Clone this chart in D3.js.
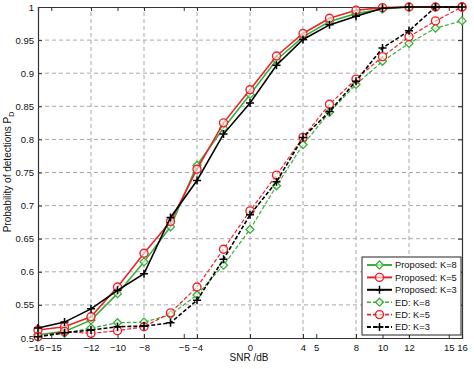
<!DOCTYPE html>
<html>
<head>
<meta charset="utf-8">
<script src="https://cdn.jsdelivr.net/npm/d3@7"></script>
<style>
  body { margin: 0; background: #fff; }
  svg { font-family: "Liberation Sans", Arial, sans-serif; }
</style>
</head>
<body>
<div class="chart"></div>
<script>
// SNR points (dB)
const snr = [-16, -14, -12, -10, -8, -6, -4, -2, 0, 2, 4, 6, 8, 10, 12, 14, 16];

// detection probability
const propK8 = [0.505, 0.510, 0.527, 0.567, 0.615, 0.668, 0.761, 0.817, 0.868, 0.920, 0.955, 0.978, 0.990, 0.997, 1.0, 1.0, 1.0];
const propK5 = [0.512, 0.517, 0.532, 0.577, 0.628, 0.676, 0.755, 0.825, 0.875, 0.926, 0.960, 0.983, 0.995, 0.999, 1.0, 1.0, 1.0];
const propK3 = [0.515, 0.524, 0.544, 0.572, 0.597, 0.682, 0.738, 0.808, 0.855, 0.912, 0.951, 0.973, 0.986, 0.998, 1.0, 1.0, 1.0];
const edK8 = [0.502, 0.507, 0.515, 0.523, 0.524, 0.535, 0.565, 0.610, 0.664, 0.730, 0.792, 0.841, 0.883, 0.918, 0.945, 0.968, 0.979];
const edK5 = [0.502, 0.510, 0.507, 0.511, 0.517, 0.538, 0.577, 0.634, 0.692, 0.746, 0.803, 0.853, 0.891, 0.925, 0.955, 0.979, 1.0];
const edK3 = [0.502, 0.508, 0.512, 0.517, 0.518, 0.523, 0.557, 0.619, 0.686, 0.736, 0.803, 0.842, 0.888, 0.938, 0.964, 1.0, 1.0];

const seriesNames = ['Proposed: K=8', 'Proposed: K=5', 'Proposed: K=3', 'ED: K=8', 'ED: K=5', 'ED: K=3'];
const xTicks = [-16, -15, -12, -10, -8, -5, -4, 0, 4, 5, 8, 10, 12, 15, 16];
const xGrid = [-12, -8, -4, 0, 4, 8, 12];
const yTicks = [0.5, 0.55, 0.6, 0.65, 0.7, 0.75, 0.8, 0.85, 0.9, 0.95, 1];

const green = '#3aad3a', red = '#e8242b', black = '#000';
const series = [
  { name: seriesNames[0], values: propK8, color: green, marker: 'diamond', dash: null, width: 1.6 },
  { name: seriesNames[1], values: propK5, color: red, marker: 'circle', dash: null, width: 1.6 },
  { name: seriesNames[2], values: propK3, color: black, marker: 'plus', dash: null, width: 1.6 },
  { name: seriesNames[3], values: edK8, color: green, marker: 'diamond', dash: '4,2', width: 1.2 },
  { name: seriesNames[4], values: edK5, color: red, marker: 'circle', dash: '4,2', width: 1.2 },
  { name: seriesNames[5], values: edK3, color: black, marker: 'plus', dash: '4,2', width: 1.6 }
];

const width = 474, height = 369;
const m = { left: 38, right: 12, top: 7, bottom: 31 };

const svg = d3.select('.chart').append('svg')
  .attr('width', width)
  .attr('height', height);

const x = d3.scaleLinear().domain([-16, 16]).range([m.left, width - m.right]);
const y = d3.scaleLinear().domain([0.5, 1]).range([height - m.bottom, m.top]);

// grid
const grid = svg.append('g')
  .attr('stroke', '#a8a8a8')
  .attr('stroke-dasharray', '4,3')
  .attr('stroke-width', 1);
grid.selectAll('.gx').data(xGrid).enter().append('line')
  .attr('x1', d => x(d)).attr('x2', d => x(d))
  .attr('y1', y(0.5)).attr('y2', y(1));
grid.selectAll('.gy').data(yTicks.slice(1, -1)).enter().append('line')
  .attr('y1', d => y(d)).attr('y2', d => y(d))
  .attr('x1', x(-16)).attr('x2', x(16));

// axes
const xAxis = svg.append('g')
  .attr('transform', `translate(0,${y(0.5)})`)
  .call(d3.axisBottom(x).tickValues(xTicks).tickSize(-4).tickPadding(6).tickFormat(d3.format('d')));
const yAxis = svg.append('g')
  .attr('transform', `translate(${x(-16)},0)`)
  .call(d3.axisLeft(y).tickValues(yTicks).tickSize(-4).tickPadding(4).tickFormat(d => String(d)));
svg.append('g')
  .attr('transform', `translate(0,${y(1)})`)
  .call(d3.axisTop(x).tickValues(xTicks).tickSize(-4).tickFormat(''));
svg.append('g')
  .attr('transform', `translate(${x(16)},0)`)
  .call(d3.axisRight(y).tickValues(yTicks).tickSize(-4).tickFormat(''));

svg.selectAll('.domain').attr('stroke', '#333').attr('stroke-width', 1.2);
svg.selectAll('.tick line').attr('stroke', '#333');
svg.selectAll('.tick text').attr('font-size', 9.5).attr('fill', '#111')
  .attr('font-family', '"Liberation Sans", Arial, sans-serif');
// the -16/-15 labels sit almost on top of each other; nudge them apart a bit
xAxis.selectAll('.tick text')
  .attr('dx', d => d === -16 ? -2 : d === -15 ? 2 : 0);

// lines
const line = d3.line().x((d, i) => x(snr[i])).y(d => y(d));

function drawMarker(g, type, color) {
  if (type === 'circle') {
    g.append('circle').attr('r', 4).attr('fill', '#fff').attr('fill-opacity', 0.6)
      .attr('stroke', color).attr('stroke-width', 1.4);
  } else if (type === 'diamond') {
    g.append('path').attr('d', 'M0,-4L4,0L0,4L-4,0Z').attr('fill', '#fff').attr('fill-opacity', 0.6)
      .attr('stroke', color).attr('stroke-width', 1.3);
  } else {
    g.append('path').attr('d', 'M-4,0H4M0,-4V4').attr('stroke', color).attr('stroke-width', 1.5);
  }
}

series.forEach(s => {
  svg.append('path')
    .datum(s.values)
    .attr('fill', 'none')
    .attr('stroke', s.color)
    .attr('stroke-width', s.width)
    .attr('stroke-dasharray', s.dash)
    .attr('d', line);
  s.values.forEach((v, i) => {
    const g = svg.append('g').attr('transform', `translate(${x(snr[i])},${y(v)})`);
    drawMarker(g, s.marker, s.color);
  });
});

// legend
const lg = svg.append('g').attr('transform', 'translate(362,257)');
lg.append('rect').attr('width', 99).attr('height', 78)
  .attr('fill', '#fff').attr('stroke', '#222').attr('stroke-width', 1);
series.forEach((s, i) => {
  const yy = 8 + i * 12.4;
  lg.append('line').attr('x1', 5).attr('x2', 30).attr('y1', yy).attr('y2', yy)
    .attr('stroke', s.color).attr('stroke-width', s.width + 0.4).attr('stroke-dasharray', s.dash);
  drawMarker(lg.append('g').attr('transform', `translate(17.5,${yy})`), s.marker, s.color);
  lg.append('text').attr('x', 33).attr('y', yy + 3.3)
    .attr('font-size', 9.3).attr('fill', '#111').text(s.name);
});

// axis labels
svg.append('text')
  .attr('x', 249).attr('y', 361)
  .attr('text-anchor', 'middle').attr('font-size', 10).attr('fill', '#111')
  .text('SNR /dB');

const yl = svg.append('text')
  .attr('transform', 'translate(11,172) rotate(-90)')
  .attr('text-anchor', 'middle').attr('font-size', 10).attr('fill', '#111');
yl.append('tspan').text('Probability of detections P');
yl.append('tspan').attr('dy', 3).attr('font-size', 7).text('D');
</script>
</body>
</html>
